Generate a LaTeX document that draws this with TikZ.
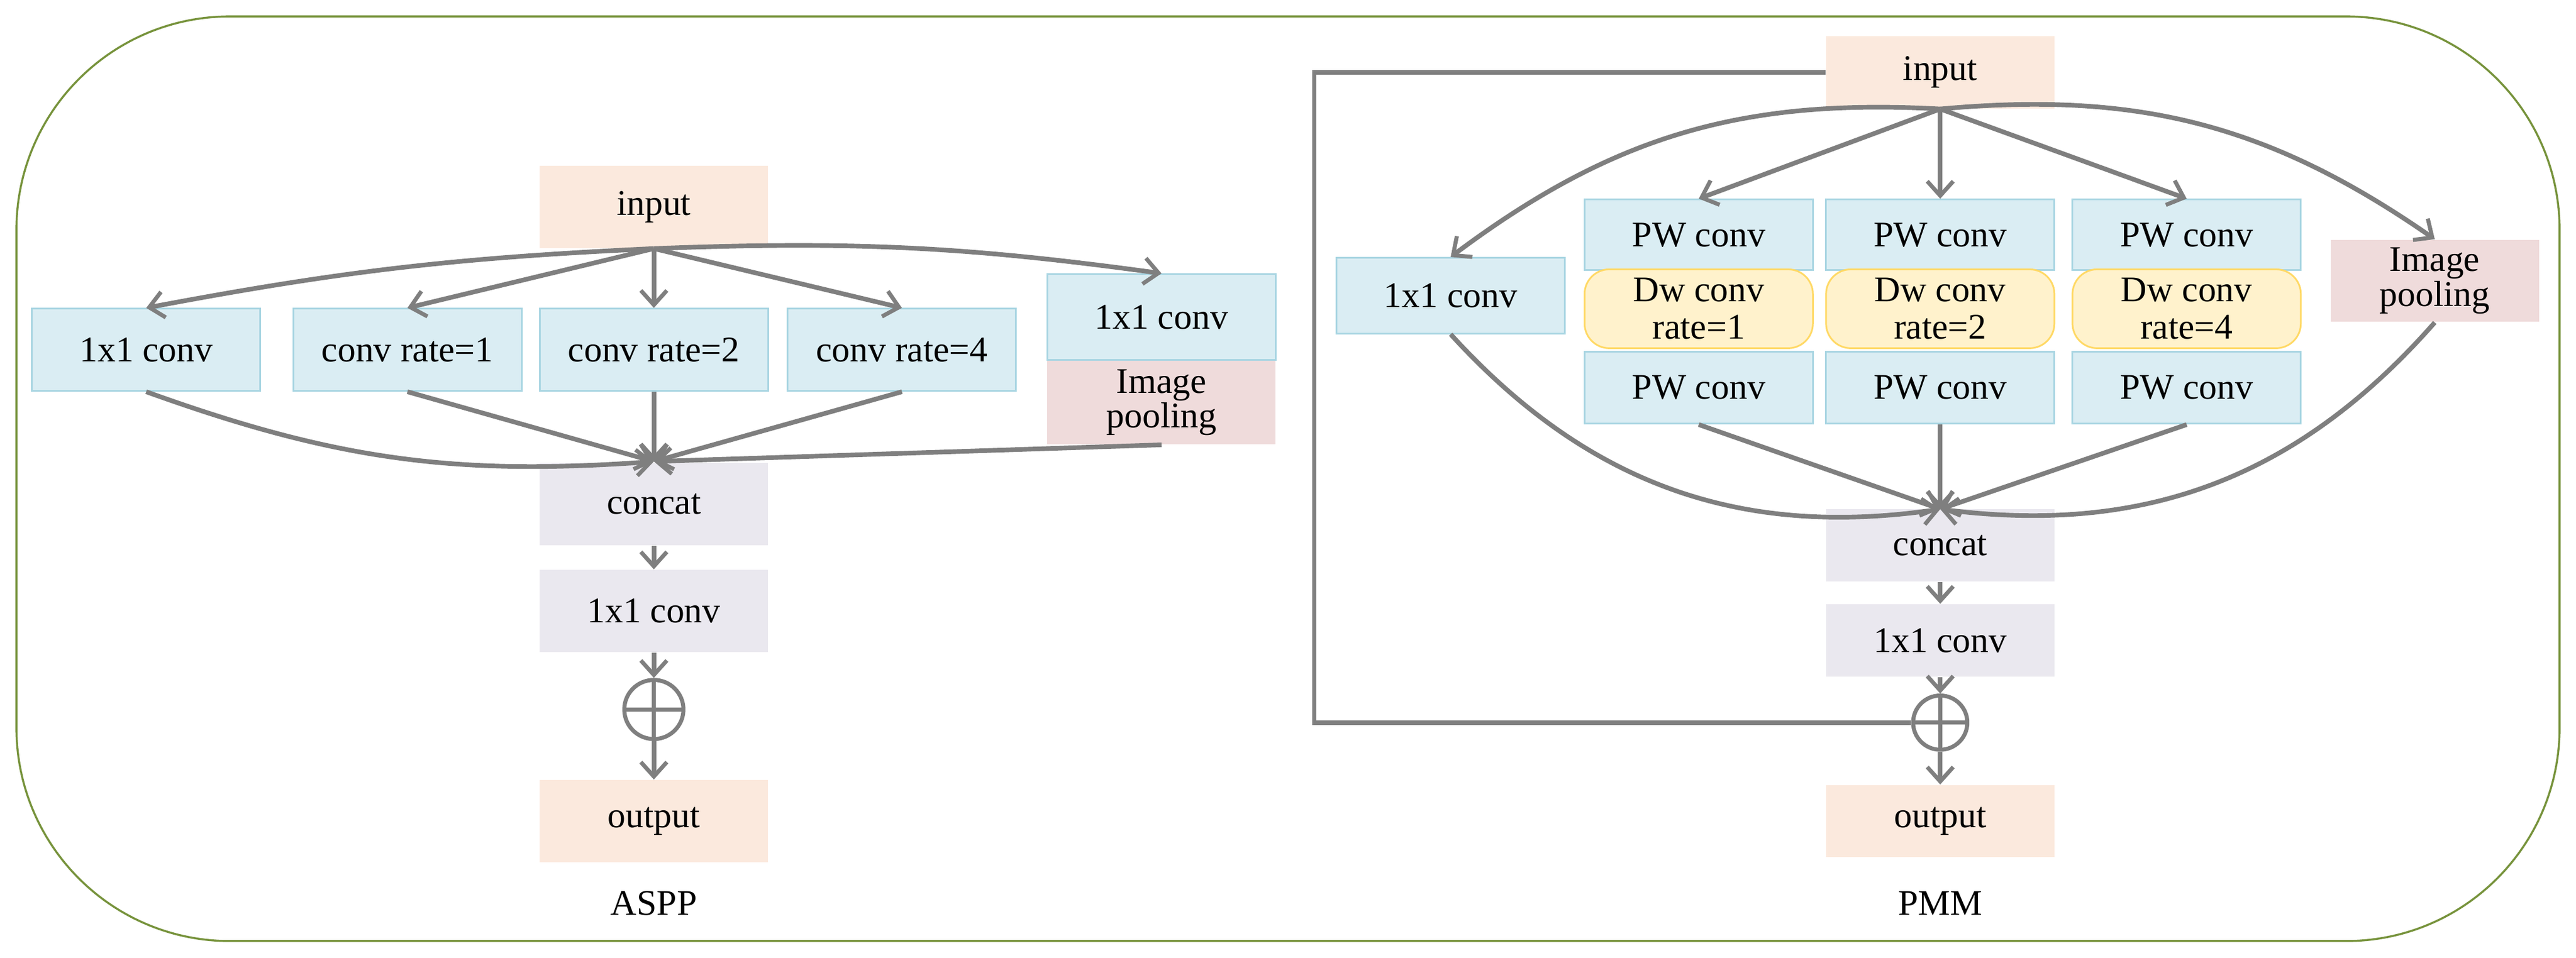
\documentclass[tikz,border=0pt]{standalone}
\usepackage{fontspec}
\setmainfont{Liberation Serif}
\usetikzlibrary{arrows.meta}
\definecolor{peach}{HTML}{FBE9DD}
\definecolor{lblue}{HTML}{DAEDF3}
\definecolor{lblueb}{HTML}{A8D5E2}
\definecolor{pinkc}{HTML}{EFDBDB}
\definecolor{lav}{HTML}{EAE8EF}
\definecolor{yel}{HTML}{FFF2CC}
\definecolor{yelb}{HTML}{FFD966}
\definecolor{ln}{HTML}{7F7F7F}
\definecolor{olive}{HTML}{77933C}
\tikzset{
  box/.style={minimum width=2.78cm, minimum height=1.0cm, inner sep=1pt, font=\fontsize{12.5}{15}\selectfont, align=center},
  inbox/.style={box, fill=peach},
  bluebox/.style={box, fill=lblue, draw=lblueb, line width=0.6pt},
  pinkbox/.style={box, fill=pinkc},
  lavbox/.style={box, fill=lav},
  yelbox/.style={box, fill=yel, draw=yelb, line width=0.6pt, rounded corners=0.3cm},
  arr/.style={draw=ln, line width=1.6pt, -{Straight Barb[length=5pt,width=9pt,line width=1.4pt]}},
  ln/.style={draw=ln, line width=1.6pt},
  plus/.style={circle, draw=ln, line width=1.4pt, minimum size=0.72cm, inner sep=0pt,
    path picture={\draw[ln, line width=1.4pt] (path picture bounding box.north) -- (path picture bounding box.south)
      (path picture bounding box.west) -- (path picture bounding box.east);}},
  lbl/.style={font=\fontsize{12.5}{15}\selectfont}
}
\begin{document}
\begin{tikzpicture}[x=0.02cm,y=-0.02cm]
\useasboundingbox (0,0) rectangle (1568,583);
\draw[olive, line width=0.7pt, rounded corners=2.6cm] (10,10) rectangle (1558,573);
% ---------- ASPP ----------
\node[inbox] (ai) at (398,126) {input};
\node[bluebox] (a1) at (89,213) {1x1 conv};
\node[bluebox] (a2) at (248,213) {conv rate=1};
\node[bluebox] (a3) at (398,213) {conv rate=2};
\node[bluebox] (a4) at (549,213) {conv rate=4};
\node[bluebox, minimum height=1.04cm] (a5) at (707,193) {1x1 conv};
\node[pinkbox, minimum height=1.02cm] (a6) at (707,245) {Image\\[-3pt]pooling};
\node[lavbox] (ac) at (398,307) {concat};
\node[lavbox] (ak) at (398,372) {1x1 conv};
\node[plus] (ap) at (398,432) {};
\node[inbox] (ao) at (398,500) {output};
\node[lbl] (al) at (398,550) {ASPP};
\coordinate (am) at (398,281);
\draw[arr] (ai.south) to[bend right=4] (a1.north);
\draw[arr] (ai.south) -- (a2.north);
\draw[arr] (ai.south) -- (a3.north);
\draw[arr] (ai.south) -- (a4.north);
\draw[arr] (ai.south) to[bend left=5] (a5.north);
\draw[arr] (a1.south) to[bend right=12] (am);
\draw[arr] (a2.south) -- (am);
\draw[arr] (a3.south) -- (am);
\draw[arr] (a4.south) -- (am);
\draw[arr] (a6.south) -- (am);
\draw[arr] (ac) -- (ak);
\draw[arr] (ak) -- (ap);
\draw[arr] (ap) -- (ao);
% ---------- PMM ----------
\node[inbox, minimum height=0.88cm] (pi) at (1181,44) {input};
\node[bluebox, minimum height=0.92cm] (p1) at (883,180) {1x1 conv};
\foreach \n/\x/\r in {a/1034/1,b/1181/2,c/1331/4}{
  \node[bluebox, minimum height=0.86cm] (pt\n) at (\x,143) {PW conv};
  \node[yelbox, minimum height=0.96cm] (pd\n) at (\x,188) {Dw conv\\[-2pt]rate=\r};
  \node[bluebox, minimum height=0.88cm] (pb\n) at (\x,236) {PW conv};
}
\node[pinkbox, minimum width=2.54cm] (p6) at (1482,171) {Image\\[-3pt]pooling};
\node[lavbox, minimum height=0.88cm] (pc) at (1181,332) {concat};
\node[lavbox, minimum height=0.88cm] (pk) at (1181,390) {1x1 conv};
\node[plus, minimum size=0.66cm] (pp) at (1181,440) {};
\node[inbox, minimum height=0.88cm] (po) at (1181,500) {output};
\node[lbl] (pl) at (1181,550) {PMM};
\coordinate (pm) at (1181,310);
\coordinate (s1) at (800,44);
\coordinate (s2) at (800,440);
\draw[ln] (pi.west) -- (s1) -- (s2) -- (pp.west);
\draw[arr] (pi.south) to[bend right=20] (p1.north);
\draw[arr] (pi.south) -- (pta.north);
\draw[arr] (pi.south) -- (ptb.north);
\draw[arr] (pi.south) -- (ptc.north);
\draw[arr] (pi.south) to[bend left=20] (p6.north);
\draw[arr] (p1.south) to[bend right=28] (pm);
\draw[arr] (pba.south) -- (pm);
\draw[arr] (pbb.south) -- (pm);
\draw[arr] (pbc.south) -- (pm);
\draw[arr] (p6.south) to[bend left=28] (pm);
\draw[arr] (pc) -- (pk);
\draw[arr] (pk) -- (pp);
\draw[arr] (pp) -- (po);
\end{tikzpicture}
\end{document}
